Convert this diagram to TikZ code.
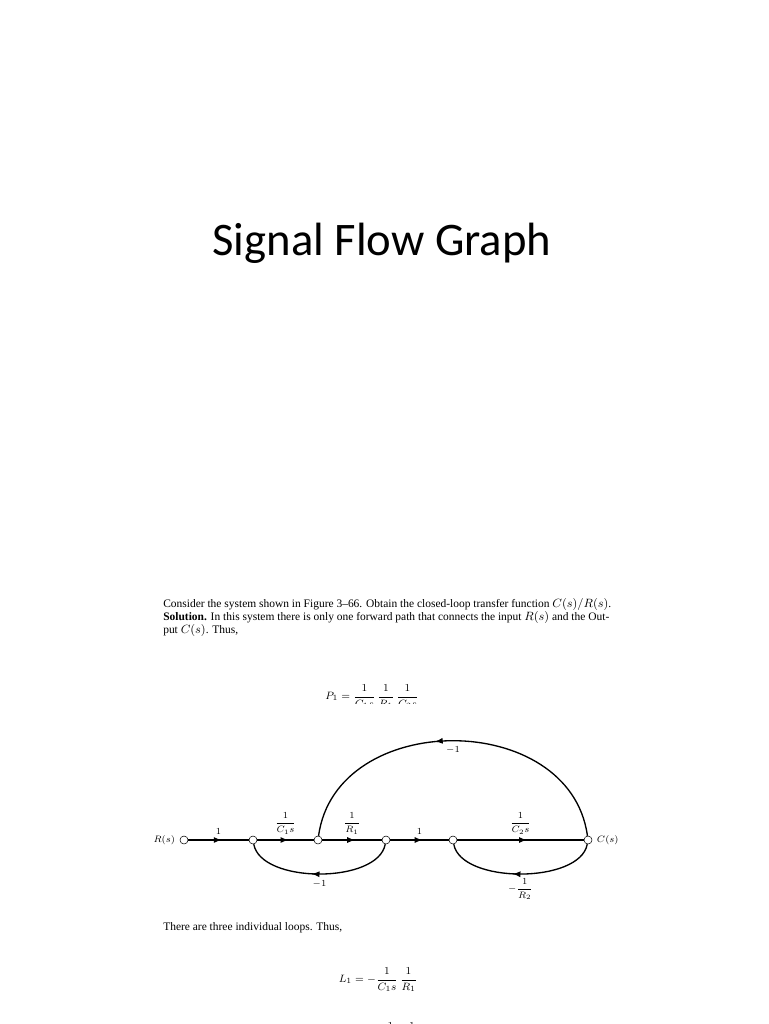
\documentclass[tikz,border=0pt]{standalone}
\usepackage{amsmath}
\usepackage{fontspec}
\setmainfont{Liberation Serif}
\newfontfamily\titlefont{Carlito}
\usetikzlibrary{decorations.markings}
\tikzstyle{sfnode} = [circle, draw=black, inner sep=0pt, minimum size=6pt, fill=white]
\tikzstyle{branch} = [line width=1pt, postaction={decorate}, decoration={markings, mark=at position 0.55 with {\arrow{latex}}}]
\tikzstyle{gain} = [font=\scriptsize, inner sep=1pt]
\tikzstyle{txt} = [anchor=west, font=\fontsize{8.6}{10}\selectfont, inner sep=0pt]

\begin{document}
\begin{tikzpicture}[x=0.75pt,y=-0.75pt]
\useasboundingbox (0,0) rectangle (768,1024);

\node (title) at (382,243) {\titlefont\fontsize{35}{40}\selectfont Signal Flow Graph};

\node (l1) [txt] at (163,604) {Consider the system shown in Figure 3--66. Obtain the closed-loop transfer function $C(s)/R(s)$.};
\node (l2) [txt] at (163,617) {\textbf{Solution.} In this system there is only one forward path that connects the input $R(s)$ and the Out-};
\node (l3) [txt] at (163,630) {put $C(s)$. Thus,};
\begin{scope}
\clip (0,670) rectangle (768,703);
\node (p1) at (372,697) {\footnotesize$P_1=\dfrac{1}{C_1s}\,\dfrac{1}{R_1}\,\dfrac{1}{C_2s}$};
\end{scope}

% nodes of the graph
\node (R) [sfnode] at (184,840) {};
\node (n1) [sfnode] at (253,840) {};
\node (n2) [sfnode] at (318,840) {};
\node (n3) [sfnode] at (386,840) {};
\node (n4) [sfnode] at (453,840) {};
\node (C) [sfnode] at (588,840) {};
\node [anchor=east, font=\scriptsize] at (R.west) {$R(s)$};
\node [anchor=west, font=\scriptsize] at (C.east) {$C(s)$};

% forward path
\draw [branch] (R) -- (n1) node [gain, midway, above=3pt] {$1$};
\draw [branch] (n1) -- (n2) node [gain, midway, above=3pt] {$\dfrac{1}{C_1s}$};
\draw [branch] (n2) -- (n3) node [gain, midway, above=3pt] {$\dfrac{1}{R_1}$};
\draw [branch] (n3) -- (n4) node [gain, midway, above=3pt] {$1$};
\draw [branch] (n4) -- (C) node [gain, pos=0.5, above=3pt] {$\dfrac{1}{C_2s}$};

% loops
\draw [branch] (C) .. controls (570,709) and (336,709) .. (n2) node [gain, pos=0.5, below=3pt] {$-1$};
\draw [branch] (n3) .. controls (378,884) and (261,884) .. (n1) node [gain, pos=0.5, below=3pt] {$-1$};
\draw [branch] (C) .. controls (580,884) and (461,884) .. (n4) node [gain, pos=0.5, below=2pt] {$-\dfrac{1}{R_2}$};

\node (l4) [txt] at (163,928) {There are three individual loops. Thus,};
\node (L1) at (378,980) {\footnotesize$L_1=-\dfrac{1}{C_1s}\,\dfrac{1}{R_1}$};
\node (L2) at (400,1034) {\footnotesize$\dfrac{1}{C_1s}\,\dfrac{1}{R_1}$};
\end{tikzpicture}
\end{document}
